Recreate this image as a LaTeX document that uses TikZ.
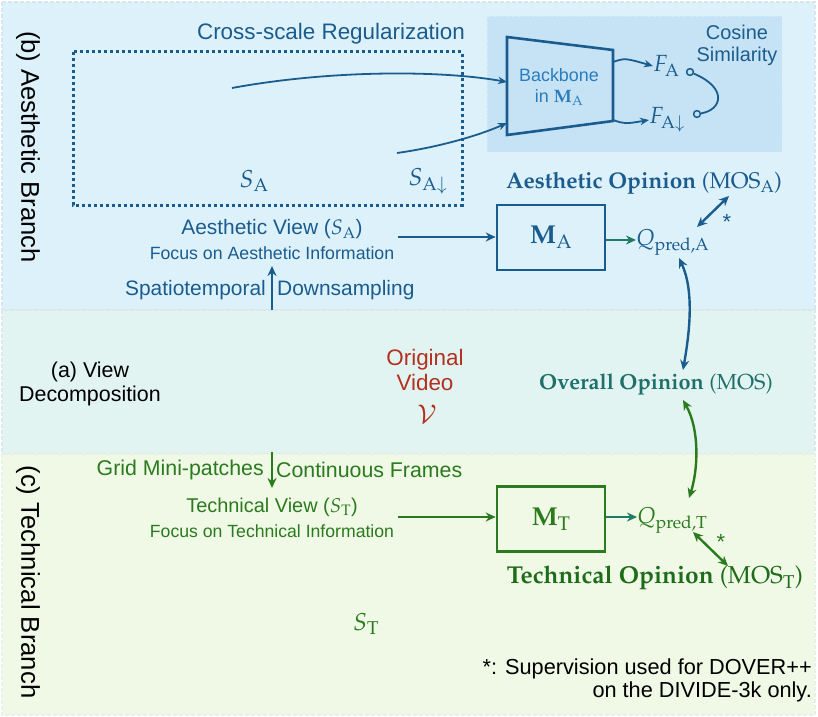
\documentclass[tikz,border=0pt]{standalone}
\usepackage{mathpazo}
\usepackage[no-math]{fontspec}
\setmainfont{Liberation Sans}
\usetikzlibrary{arrows.meta,calc}
\newcommand\palf{\fontencoding{OT1}\fontfamily{ppl}\selectfont}
\definecolor{ablue}{HTML}{1A5C8E}
\definecolor{bbtext}{HTML}{2A7CBA}
\definecolor{tgreen}{HTML}{2B7A1E}
\definecolor{dgreen}{HTML}{1E6B1A}
\definecolor{tealc}{HTML}{1F6F6A}
\definecolor{arrteal}{HTML}{1F7A66}
\definecolor{redc}{HTML}{B3301F}
\definecolor{bgtop}{HTML}{DDF1FB}
\definecolor{bgmid}{HTML}{E2F4F2}
\definecolor{bgbot}{HTML}{EFF9E6}
\definecolor{shade}{HTML}{C6E3F5}
\tikzset{
  sz/.style={font=\fontsize{#1}{\dimexpr #1pt*6/5\relax}\selectfont},
  psz/.style={font=\fontsize{#1}{\dimexpr #1pt*6/5\relax}\palf},
  arr/.style={-{Stealth[length=10bp,width=9bp]},line width=2.4bp},
  darr/.style={{Stealth[length=10bp,width=9bp]}-{Stealth[length=10bp,width=9bp]},line width=2.4bp},
  thinarr/.style={-{Stealth[length=9bp,width=7.5bp]},line width=1.8bp},
  model/.style={draw,line width=2.6bp,minimum width=108bp,minimum height=65bp,inner sep=0pt},
  panel/.style={dash pattern=on 4bp off 2bp,line width=1.2bp}
}
\begin{document}
\begin{tikzpicture}[x=1bp,y=-1bp]
\useasboundingbox (0,0) rectangle (818,717);
% panels
\path[fill=bgtop,draw=bgtop!60!ablue!35,panel] (2,2) rectangle (815,310);
\path[fill=bgmid,draw=bgmid!60!tealc!35,panel] (2,310) rectangle (815,454);
\path[fill=bgbot,draw=bgbot!60!tgreen!25,panel] (2,454) rectangle (815,715);
\path[fill=shade,draw=shade!60!white,dotted] (487,16) rectangle (782,152);

% side labels
\node[sz=25.7,rotate=-90,inner sep=0] (blab) at (28,147) {(b) Aesthetic Branch};
\node[sz=25.8,rotate=-90,inner sep=0] (clab) at (28,582) {(c) Technical Branch};

% aesthetic branch
\node[sz=22.5,text=ablue,inner sep=0] (cross) at (331,34) {Cross-scale Regularization};
\draw[ablue,line width=3bp,dash pattern=on 3bp off 3bp] (73,52) rectangle (462,205);
\node[text=ablue,inner sep=0,sz=24.5] (sa) at (254,181) {$S_{\mathrm{A}}$};
\node[text=ablue,inner sep=0,sz=24.5] (sad) at (428,181) {$S_{\mathrm{A}\downarrow}$};
\coordinate (sa1) at (232,88);
\coordinate (sa2) at (397,153);

% backbone
\draw[ablue,line width=2.6bp] (507,37) -- (613,50) -- (613,121) -- (507,135) -- cycle;
\node[sz=18,text=bbtext,align=center,inner sep=0] (bb) at (559,87) {Backbone\\[-1pt] in $\mathbf{M}_{\mathrm{A}}$};
\coordinate (bbin1) at (507,82);
\coordinate (bbin2) at (507,123);
\coordinate (bbout1) at (613,62);
\coordinate (bbout2) at (613,120);
\draw[ablue,thinarr] (sa1) .. controls (330,70) and (440,70) .. (bbin1);
\draw[ablue,thinarr] (sa2) .. controls (440,147) and (480,135) .. (bbin2);
\node[text=ablue,inner sep=0,anchor=west,sz=23.5] (fa) at (653,66) {$F_{\mathrm{A}}$};
\node[text=ablue,inner sep=0,anchor=west,sz=23.5] (fad) at (649,120) {$F_{\mathrm{A}\downarrow}$};
\draw[ablue,thinarr] (bbout1) .. controls (625,58) .. (fa.west);
\draw[ablue,thinarr] (bbout2) .. controls (625,124) .. (fad.west);
\node[draw=ablue,circle,line width=1.5bp,inner sep=2.4bp] (c1) at (690,72) {};
\node[draw=ablue,circle,line width=1.5bp,inner sep=2.4bp] (c2) at (697,114) {};
\draw[ablue,line width=1.8bp] (c1) .. controls (728,88) and (722,110) .. (c2);
\node[sz=20,text=ablue,align=center,inner sep=0] (cos) at (737,45) {Cosine\\[-2pt] Similarity};

\node[text=ablue,inner sep=0,psz=22.7] (aop) at (644,183) {\textbf{Aesthetic Opinion} (MOS$_{\mathrm{A}}$)};
\node[model,draw=ablue,text=ablue,sz=26] (ma) at (551,237.5) {$\mathbf{M}_{\mathrm{A}}$};
\node[text=ablue,inner sep=0,anchor=west,sz=23] (qa) at (636,242) {$Q_{\mathrm{pred,A}}$};
\draw[arrteal,arr] (ma.east |- 0,240) -- (qa.west |- 0,240);
\coordinate (aopstar) at (729,196);
\draw[ablue,darr] (697,227) -- (aopstar);
\node[text=ablue,sz=22,inner sep=0] (stara) at (727,222) {*};

\node[sz=21,text=ablue,inner sep=0] (av) at (272,229) {Aesthetic View ($S_{\mathrm{A}}$)};
\node[sz=17.8,text=ablue,inner sep=0] (af) at (272,253) {Focus on Aesthetic Information};
\coordinate (avout) at (398,237);
\draw[ablue,arr] (avout) -- (ma.west |- avout);
\node[sz=21,text=ablue,inner sep=0,anchor=east] (spat) at (266,290) {Spatiotemporal};
\node[sz=21,text=ablue,inner sep=0,anchor=west] (down) at (277,290) {Downsampling};
\coordinate (vtop) at (272,310);
\coordinate (avbot) at (272,266);
\draw[ablue,arr] (vtop) -- (avbot);

% middle
\node[sz=21.5,align=center,inner sep=0] (alab) at (90,384) {(a) View\\[-1pt] Decomposition};
\node[sz=22.5,text=redc,align=center,inner sep=0] (orig) at (425,370) {Original\\[-2pt] Video};
\node[text=redc,inner sep=0,sz=26] (vv) at (427,414) {$\mathcal{V}$};
\node[text=tealc,inner sep=0,psz=21.8] (oop) at (656,384) {\textbf{Overall Opinion} (MOS)};
\draw[ablue,darr] (679,258) .. controls (694,290) and (690,330) .. (683,370);
\draw[tgreen,darr] (683,400) .. controls (700,430) and (698,470) .. (689,498);

% technical branch
\coordinate (vbot) at (272,452);
\coordinate (tvtop) at (272,488);
\draw[tgreen,arr] (vbot) -- (tvtop);
\node[sz=21.4,text=tgreen,inner sep=0,anchor=east] (grid) at (264,470) {Grid Mini-patches};
\node[sz=21.4,text=tgreen,inner sep=0,anchor=west] (cont) at (276,470) {Continuous Frames};
\node[sz=20,text=tgreen,inner sep=0] (tv) at (272,507) {Technical View ($S_{\mathrm{T}}$)};
\node[sz=17.7,text=tgreen,inner sep=0] (tf) at (272,531) {Focus on Technical Information};
\node[model,draw=tgreen,text=tgreen,sz=26] (mt) at (551,519) {$\mathbf{M}_{\mathrm{T}}$};
\coordinate (tvout) at (398,517);
\draw[tgreen,arr] (tvout) -- (mt.west |- tvout);
\node[text=tgreen,inner sep=0,anchor=west,sz=23] (qt) at (637,520) {$Q_{\mathrm{pred,T}}$};
\draw[arrteal,arr] (mt.east |- 0,517) -- (qt.west |- 0,517);
\coordinate (topstar) at (728,566);
\draw[tgreen,darr] (693,532) -- (topstar);
\node[text=tgreen,sz=22,inner sep=0] (start) at (721,542) {*};
\node[text=dgreen,inner sep=0,psz=24.5] (top) at (655,578) {\textbf{Technical Opinion} (MOS$_{\mathrm{T}}$)};
\node[text=tgreen,inner sep=0,sz=24.5] (st) at (366,624) {$S_{\mathrm{T}}$};
\node[sz=21.8,align=right,inner sep=0,anchor=east] (note) at (812,680) {*: Supervision used for DOVER++\\[-3pt] on the DIVIDE-3k only.};
\end{tikzpicture}
\end{document}
